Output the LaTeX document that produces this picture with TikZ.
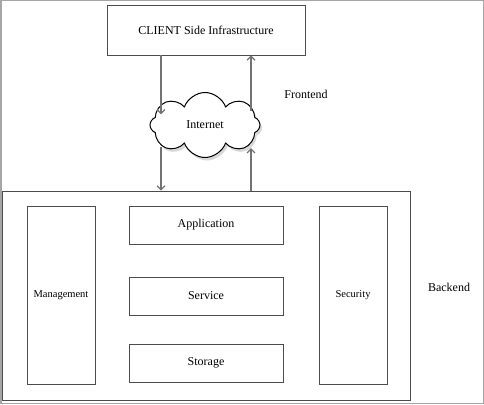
\documentclass[tikz,border=0pt]{standalone}
\usepackage{fontspec}
\setmainfont{Liberation Serif}
\usetikzlibrary{arrows.meta,positioning,shapes.symbols,shadows}

\begin{document}
\begin{tikzpicture}[
  x=1pt,y=-1pt,
  font=\fontsize{12}{14}\selectfont,
  >={Straight Barb[length=4pt,width=8pt]},
  blk/.style={draw=black!70,line width=0.8pt,align=center,inner sep=0pt},
  side/.style={blk,minimum width=68pt,minimum height=178pt,
               font=\fontsize{10.5}{12}\selectfont},
  layer/.style={blk,minimum width=154pt,minimum height=38pt},
  link/.style={->,draw=black!55,line width=1.2pt}
]
\useasboundingbox (0,0) rectangle (484,404);
\draw[black!35,line width=1.5pt] (0.75,0.75) rectangle (483.25,403.25);

\node[blk,minimum width=198pt,minimum height=50pt] (client) at (206,30) {CLIENT Side Infrastructure};
\node[cloud,draw=black,line width=1pt,fill=white,cloud puffs=8,cloud puff arc=140,
      aspect=1.7,minimum width=110pt,minimum height=65pt,inner sep=0pt,
      drop shadow={shadow xshift=2pt,shadow yshift=-3pt,fill=black!30}] (net) at (205,125) {Internet};
\node (front) at (306,94) {Frontend};

% backend
\node[blk,minimum width=408pt,minimum height=209pt] (back) at (206,295.5) {};
\node (backlab) at (449,287) {Backend};
\node[side] (mgmt) at (61,295) {Management};
\node[side] (sec) at (353,295) {Security};
\node[layer] (app) at (206,225) {Application};
\node[layer] (svc) at (206,296) {Service};
\node[layer] (sto) at (206,363) {Storage};

\coordinate (dn) at (161,0);
\coordinate (up) at (251,0);
\draw[link] (dn |- client.south) -- (dn |- net.168);
\draw[link] (up |- net.16) -- (up |- client.south);
\draw[link] (dn |- net.208) -- (dn |- back.north);
\draw[link] (up |- back.north) -- (up |- net.330);
\end{tikzpicture}
\end{document}
